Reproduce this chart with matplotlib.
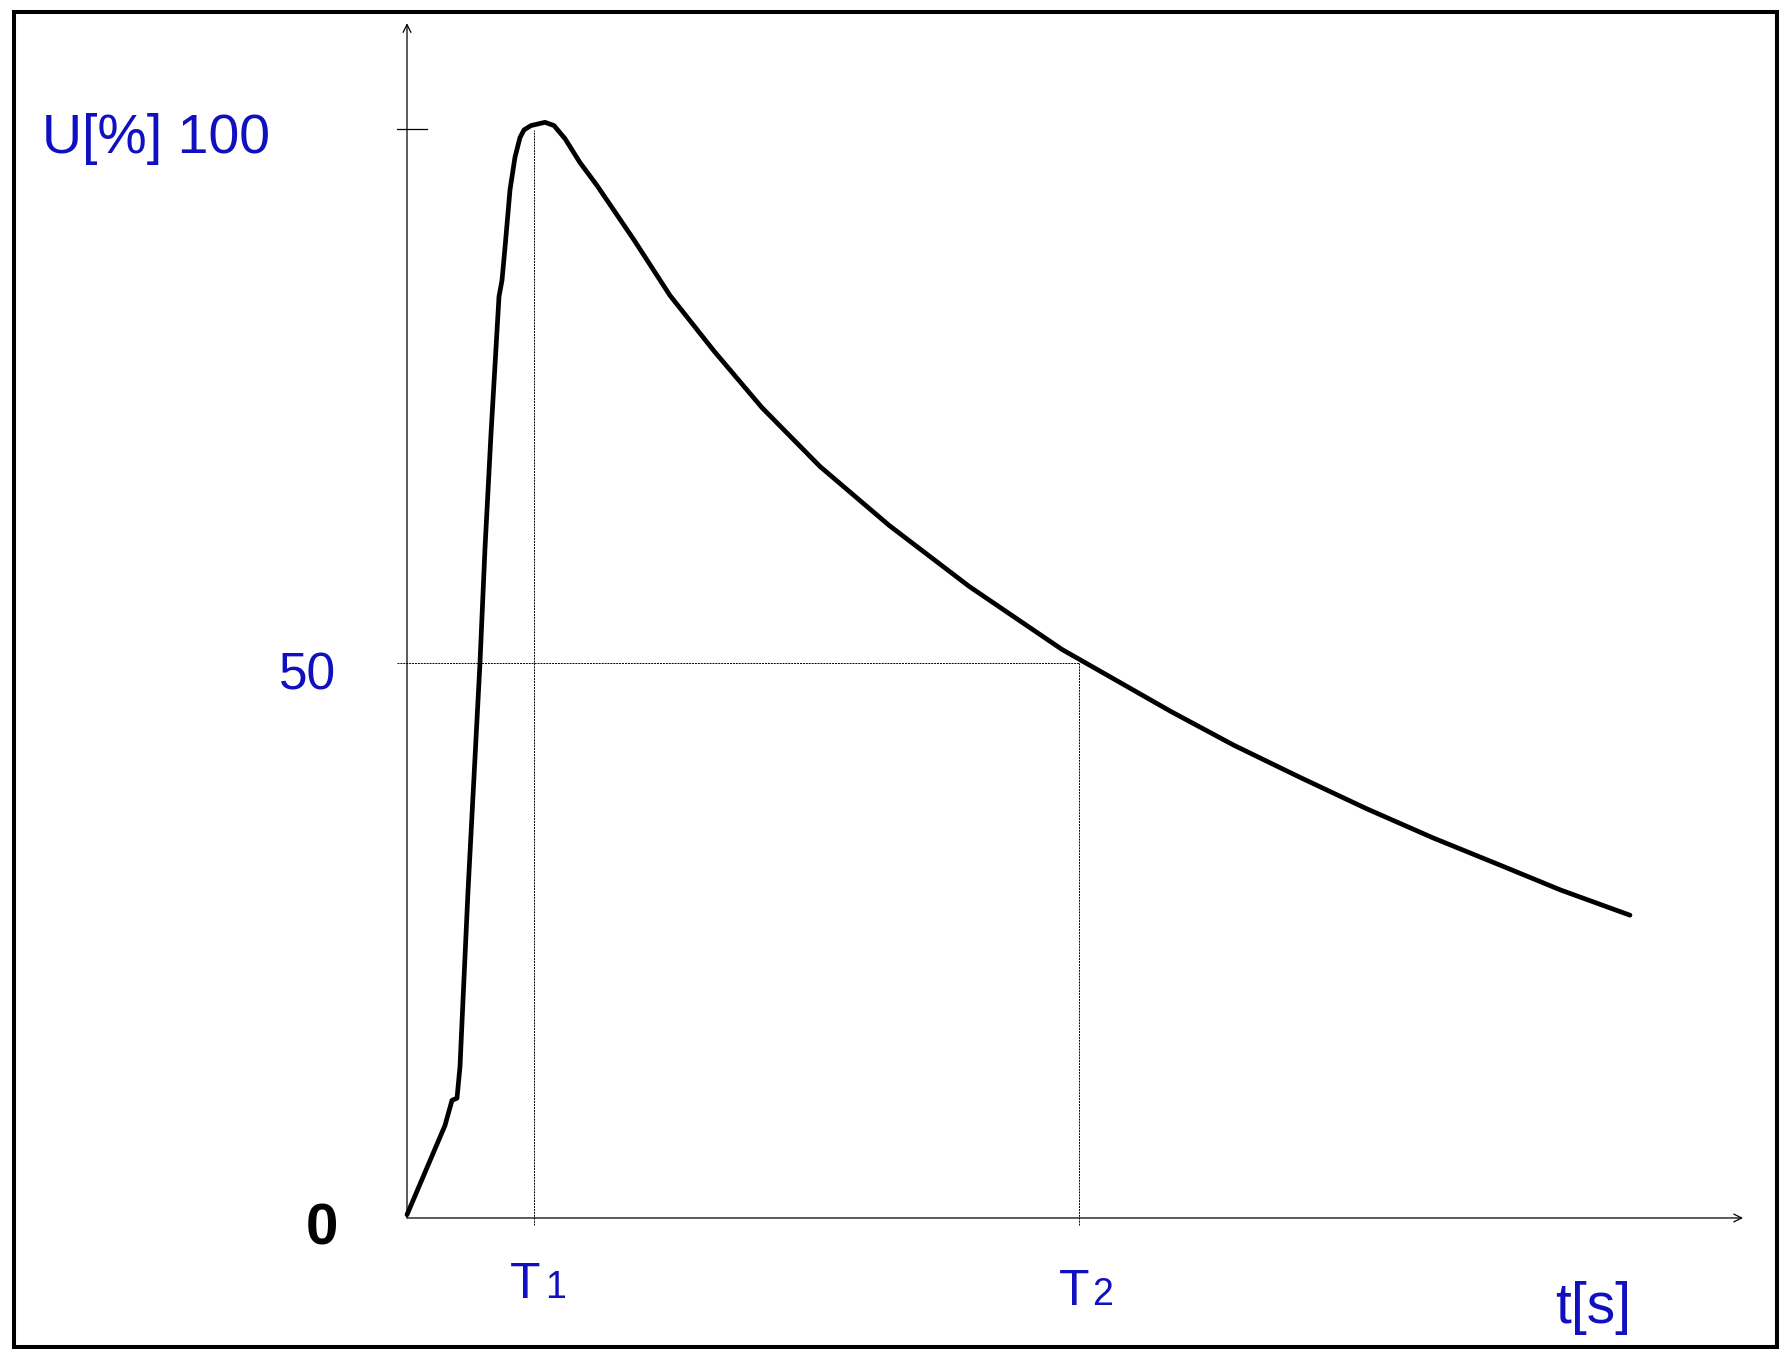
import matplotlib
matplotlib.use("Agg")
import matplotlib.pyplot as plt
from matplotlib.patches import Rectangle

# impulse voltage sketch, time in arbitrary units, voltage in %
t_vals = [0.0, 0.38, 0.45, 0.50, 0.53, 0.56, 0.61, 0.67, 0.73, 0.78, 0.84, 0.92,
          0.95, 0.98, 1.03, 1.08, 1.13, 1.17, 1.24, 1.38, 1.47, 1.58, 1.73, 1.90,
          2.27, 2.63, 3.07, 3.55, 4.13, 4.82, 5.62, 6.55, 7.64, 8.27, 8.92, 9.59,
          10.26, 10.93, 11.54, 12.23]
u_vals = [0.3, 8.5, 10.8, 11.0, 13.9, 20.0, 30.0, 40.5, 51.0, 61.5, 72.0, 84.6,
          86.1, 89.1, 94.4, 97.4, 99.2, 99.9, 100.3, 100.6, 100.3, 99.1, 96.9, 94.8,
          89.8, 84.7, 79.6, 74.4, 69.0, 63.6, 58.0, 52.2, 46.5, 43.4, 40.5, 37.6,
          34.9, 32.4, 30.1, 27.8]

T1 = 1.27
T2 = 6.72
U_PEAK_TICK = 100
U_HALF = 51.0
T_AXIS_END = 13.36
U_AXIS_END = 109.7

BLUE = '#1010c0'
plt.rcParams['font.family'] = ['Liberation Sans', 'DejaVu Sans']

fig = plt.figure(figsize=(17.91, 13.6), dpi=100)
ax = fig.add_axes([0, 0, 1, 1])
# 1 unit in t = 100 px, 1 % = 10.892 px, origin at (407, 1218) px
ax.set_xlim(-4.07, 13.84)
ax.set_ylim(-13.04, 111.83)
ax.axis('off')

# axes with open arrows
ax.annotate('', xy=(T_AXIS_END, 0), xytext=(0, 0),
            arrowprops=dict(arrowstyle='->', lw=0.9, color='black', mutation_scale=14,
                            shrinkA=0, shrinkB=0))
ax.annotate('', xy=(0, U_AXIS_END), xytext=(0, 0),
            arrowprops=dict(arrowstyle='->', lw=0.9, color='black', mutation_scale=14,
                            shrinkA=0, shrinkB=0))
ax.plot([-0.10, 0.20], [U_PEAK_TICK, U_PEAK_TICK], color='black', lw=0.9)

# reference lines
ax.plot([-0.10, T2], [U_HALF, U_HALF], color='black', lw=0.7, ls=(0, (2, 1)))
ax.plot([T1, T1], [-0.64, 99.9], color='black', lw=0.7, ls=(0, (2, 1)))
ax.plot([T2, T2], [-0.64, U_HALF], color='black', lw=0.7, ls=(0, (2, 1)))

ax.plot(t_vals, u_vals, color='black', lw=3.4, solid_joinstyle='round',
        solid_capstyle='round')

# labels
ax.text(-3.65, 97.8, 'U[%] 100', color=BLUE, fontsize=40, va='baseline', ha='left')
ax.text(-1.28, 48.5, '50', color=BLUE, fontsize=37, va='baseline', ha='left')
ax.text(-1.01, -2.48, '0', color='black', fontsize=42, fontweight='bold',
        va='baseline', ha='left')
ax.text(T1 - 0.24, -7.34, 'T', color=BLUE, fontsize=36, va='baseline', ha='left')
ax.text(T1 + 0.11, -7.34, '1', color=BLUE, fontsize=27, va='baseline', ha='left')
ax.text(T2 - 0.20, -7.99, 'T', color=BLUE, fontsize=36, va='baseline', ha='left')
ax.text(T2 + 0.13, -7.99, '2', color=BLUE, fontsize=27, va='baseline', ha='left')
ax.text(11.48, -9.64, 't[s]', color=BLUE, fontsize=41, va='baseline', ha='left')

# outer frame
fig.add_artist(Rectangle((13.5 / 1791, 13 / 1360), (1777 - 13.5) / 1791, (1347 - 11.5) / 1360,
                         transform=fig.transFigure, fill=False, lw=2.9, edgecolor='black'))

fig.savefig('out.png', dpi=100, facecolor='white')
